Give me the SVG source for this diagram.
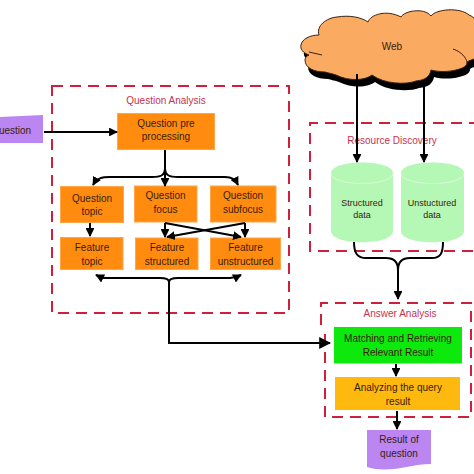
<svg xmlns="http://www.w3.org/2000/svg" width="474" height="474" viewBox="0 0 474 474">
<style>
text{font-family:"Liberation Sans",Arial,sans-serif;font-size:10px;text-anchor:middle;fill:#3a1c0c}
.t{fill:#c8324e}
.s{font-size:9px}
.dash{fill:none;stroke:#d01f3c;stroke-width:2;stroke-dasharray:11 7}
.o{fill:#ff8c0f;stroke:#ffa54a;stroke-width:1}
.doc{fill:#bb86f2}
.cy{fill:#b5f7b5}
.cl{fill:none;stroke:#d8fbd8;stroke-width:1}
.c{fill:none;stroke:#000;stroke-width:2}
</style>
<defs>
<marker id="a" viewBox="0 0 10 10" refX="9" refY="5" markerWidth="4.400" markerHeight="4.400" orient="auto"><path d="M0 0L10 5L0 10z" fill="#000"/></marker>
<marker id="b" viewBox="0 0 10 10" refX="9" refY="5" markerWidth="6" markerHeight="6" orient="auto"><path d="M0 0L10 5L0 10z" fill="#000"/></marker>
<path id="cloud" d="M319 35C316 26 326 18 337 17C349 15 361 17 368 22C370 15 386 9 401 17C404 11 424 7 431 16C436 9 460 7 469 15C472 16 474 18 476 20V58C472 60 470 60 467 62C467 66 464 68 456 70C448 72 438 72 431 70C430 76 426 80 416 81C406 85 384 84 372 75C366 80 350 82 336 75C330 73 328 73 325 72C314 72 305 68 305 60C305 57 307 56 309 55C303 53 300 49 301 45C302 39 310 35 319 35Z"/>
</defs>
<g id="cloud-web">
<use href="#cloud" transform="translate(3 7)" fill="#000"/>
<use href="#cloud" fill="#fbaa62" stroke="#3a2410" stroke-width="1"/>
<path d="M309 52L322 55M453 49C462 52 466 58 467 62" fill="none" stroke="#3a2410" stroke-width="1"/>
<text x="392" y="50">Web</text>
</g>
<g id="question-analysis"><rect class="dash" x="52" y="86" width="237" height="227"/><text class="t" x="166" y="104">Question Analysis</text></g>
<g id="resource-discovery"><path class="dash" d="M480 123H310V251H480"/></g>
<g id="answer-analysis"><path class="dash" d="M321 325V303H471V417H325V330"/><text class="t" x="400" y="317">Answer Analysis</text></g>
<g id="question"><path class="doc" d="M-2 117L43 115V143H-2Z"/><text x="15" y="134">uestion</text></g>
<g id="pre"><rect class="o" x="117.500" y="113.500" width="97" height="36"/><text x="166" y="127">Question pre</text><text x="166" y="140">processing</text></g>
<g id="qtopic"><rect class="o" x="60.500" y="186.500" width="63" height="36"/><text x="92" y="202">Question</text><text x="92" y="215">topic</text></g>
<g id="qfocus"><rect class="o" x="134.500" y="186" width="62.500" height="36"/><text x="165.500" y="199">Question</text><text x="165.500" y="213">focus</text></g>
<g id="qsub"><rect class="o" x="210.500" y="186" width="65.500" height="36"/><text x="243" y="199">Question</text><text x="243" y="213">subfocus</text></g>
<g id="ftopic"><rect class="o" x="60.500" y="237.500" width="62.500" height="32"/><text x="92" y="251">Feature</text><text x="92" y="265">topic</text></g>
<g id="fstruct"><rect class="o" x="135.500" y="238" width="62.500" height="31.500"/><text x="167" y="251">Feature</text><text x="167" y="265">structured</text></g>
<g id="funstruct"><rect class="o" x="210.500" y="238" width="70" height="31.500"/><text x="245.500" y="251">Feature</text><text x="245.500" y="265">unstructured</text></g>
<g id="sdata"><path class="cy" d="M331 173C331 159 393 159 393 173V231C393 246 331 246 331 231Z"/><path class="cl" d="M331 173C331 187 393 187 393 173"/><text class="s" x="362" y="206">Structured</text><text class="s" x="362" y="218">data</text></g>
<g id="udata"><path class="cy" d="M401 173C401 159 464 159 464 173V231C464 246 401 246 401 231Z"/><path class="cl" d="M401 173C401 187 464 187 464 173"/><text class="s" x="432" y="206">Unstuctured</text><text class="s" x="432" y="218">data</text></g>
<text class="t" x="392" y="144" id="rd-label">Resource Discovery</text>
<g id="match"><rect x="334" y="327" width="128" height="36.500" fill="#0de80d"/><text x="398" y="342">Matching and Retrieving</text><text x="398" y="356">Relevant Result</text></g>
<g id="analyze"><rect x="335" y="377" width="125" height="33" fill="#fdb90d"/><text x="398" y="391">Analyzing the query</text><text x="398" y="405">result</text></g>
<g id="result"><path class="doc" d="M367 430H431V464C410 464 390 474 367 467Z"/><text x="399" y="443">Result of</text><text x="399" y="457">question</text></g>
<g id="connectors">
<path class="c" marker-end="url(#a)" d="M44 132H117"/>
<path class="c" marker-end="url(#a)" d="M165 150V186"/>
<path class="c" marker-end="url(#a)" d="M165 168C165 176 160 177 152 177H110C102 177 97 178 93 185"/>
<path class="c" marker-end="url(#a)" d="M165 168C165 176 170 177 178 177H225C232 177 235 179 238 185"/>
<path class="c" marker-end="url(#a)" d="M90 223V236"/>
<path class="c" marker-end="url(#a)" d="M165 223V237"/>
<path class="c" marker-end="url(#a)" d="M245 223V237"/>
<path class="c" marker-end="url(#a)" d="M165 223L241 237"/>
<path class="c" marker-end="url(#a)" d="M245 223L167 237"/>
<path class="c" marker-end="url(#a)" d="M169 282C169 279 166 278 160 278H106C102 278 100 277 96 275"/>
<path class="c" marker-end="url(#a)" d="M169 282C169 279 172 278 178 278H230C234 278 237 277 241 275"/>
<path class="c" marker-end="url(#b)" d="M169 282V343H330"/>
<path class="c" marker-end="url(#a)" d="M357 74V162"/>
<path class="c" marker-end="url(#a)" d="M424 80V162"/>
<path class="c" d="M354 242C354 254 358 258 366 258H386C394 258 398 262 398 270C398 262 402 258 410 258H432C440 258 443 254 443 242"/>
<path class="c" marker-end="url(#a)" d="M398 268V299"/>
<path class="c" marker-end="url(#a)" d="M396 364V376"/>
<path class="c" marker-end="url(#a)" d="M397 411V429"/>
</g>
</svg>
